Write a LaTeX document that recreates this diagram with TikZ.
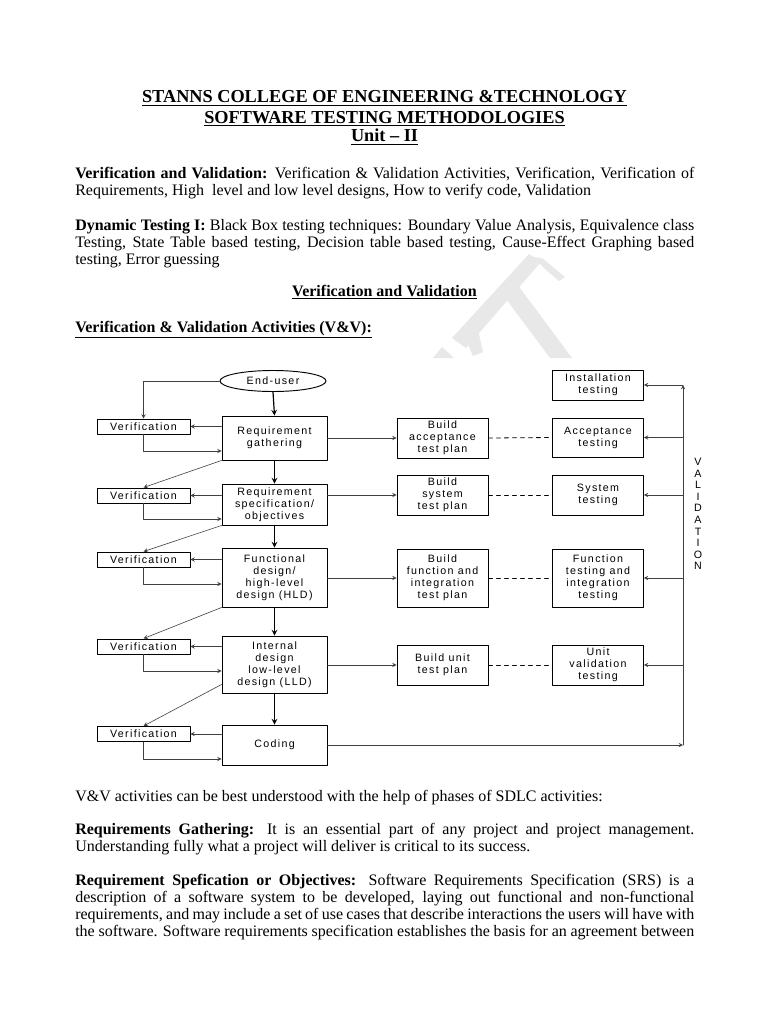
\documentclass[tikz,border=0pt]{standalone}
\usepackage{fontspec}
\setmainfont{Liberation Serif}
\newfontfamily\dfont[LetterSpace=12.5]{Liberation Sans}
\usetikzlibrary{shapes.geometric}
\newcommand{\jline}[1]{\hbox to 464.25pt{#1}}

\begin{document}
\begin{tikzpicture}[x=0.75pt, y=-0.75pt, >=stealth, line join=round, line cap=round,
	txt/.style={anchor=base west, inner sep=0pt, font=\fontsize{12}{12.75}\selectfont},
	ctxt/.style={anchor=base, inner sep=0pt, font=\fontsize{12}{12.75}\selectfont\bfseries},
	ttl/.style={anchor=base, inner sep=0pt, font=\fontsize{13.7}{14.5}\selectfont\bfseries},
	box/.style={draw, line width=0.7pt, align=center, inner sep=1pt, font=\dfont\fontsize{8}{9}\selectfont},
	mainbox/.style={box, minimum width=78.75pt},
	verif/.style={box, minimum width=69.75pt, minimum height=11.25pt},
	plan/.style={box, minimum width=68.25pt},
	link/.style={->, line width=0.45pt, black!75},
	flow/.style={->, line width=0.9pt}]
	\useasboundingbox (0,0) rectangle (768,1024);
	\fill[white] (0,0) rectangle (768,1024);

	% Watermark
	\fill[gray!18] (452,338) -- (529,254) -- (541,262) -- (466,348) -- cycle;
	\fill[gray!18] (466,340) -- (478,330) -- (483,352) -- (473,356) -- cycle;
	\fill[gray!18] (533,257) -- (542,258) -- (565,277) -- (559,281) -- (546,270) -- cycle;
	\fill[gray!18] (503,295) -- (517,284) -- (572,358) -- (550,358) -- cycle;
	\fill[gray!18] (433,358) -- (442,347) -- (454,358) -- cycle;

	% Heading
	\node[ttl] (t1) at (384.5,103) {\underline{STANNS COLLEGE OF ENGINEERING \&TECHNOLOGY}};
	\node[ttl] (t2) at (384.5,123) {\underline{SOFTWARE TESTING METHODOLOGIES}};
	\node[ttl] (t3) at (384.5,142) {\underline{Unit – II}};

	% Syllabus
	\node[txt] (p1a) at (75,178) {\jline{\textbf{Verification and Validation:} Verification \& Validation Activities, Verification, Verification of}};
	\node[txt] (p1b) at (75,195) {Requirements, High\ \ level and low level designs, How to verify code, Validation};
	\node[txt] (p2a) at (75,230) {\jline{\textbf{Dynamic Testing I:} Black Box testing techniques: Boundary Value Analysis, Equivalence class}};
	\node[txt] (p2b) at (75,247) {\jline{Testing, State Table based testing, Decision table based testing, Cause-Effect Graphing based}};
	\node[txt] (p2c) at (75,264) {testing, Error guessing};
	\node[ctxt] (h1) at (384.5,296) {\underline{Verification and Validation}};
	\node[txt, font=\fontsize{12}{12.75}\selectfont\bfseries] (h2) at (75,332) {\underline{Verification \& Validation Activities (V\&V):}};

	% Life cycle phases
	\node[ellipse, draw, line width=0.7pt, minimum width=79.5pt, minimum height=15.75pt, inner sep=0pt, font=\dfont\fontsize{8}{9}\selectfont] (endu) at (273,381) {End-user};
	\node[mainbox, minimum height=33pt] (rg) at (274.5,438) {Requirement\\gathering};
	\node[mainbox, minimum height=30.75pt] (rs) at (274.5,504.5) {Requirement\\specification/\\objectives};
	\node[mainbox, minimum height=44.25pt] (fd) at (274.5,577.5) {Functional\\design/\\high-level\\design (HLD)};
	\node[mainbox, minimum height=42.75pt] (lld) at (274.5,664.5) {Internal\\design\\low-level\\design (LLD)};
	\node[mainbox, minimum height=30pt] (cod) at (274.5,745) {Coding};

	% Verification boxes
	\foreach \n/\y in {1/426.5, 2/495.5, 3/559.5, 4/646.5, 5/734}
		\node[verif] (v\n) at (143.5,\y) {Verification};

	% Test plans
	\node[plan, minimum height=30pt] (ba) at (442.5,438) {Build\\acceptance\\test plan};
	\node[plan, minimum height=30pt] (bs) at (442.5,495) {Build\\system\\test plan};
	\node[plan, minimum height=43.5pt] (bf) at (442.5,578) {Build\\function and\\integration\\test plan};
	\node[plan, minimum height=30pt] (bu) at (442.5,665) {Build unit\\test plan};

	% Testing
	\node[plan, minimum height=22.5pt] (inst) at (598,385) {Installation\\testing};
	\node[plan, minimum height=29.25pt] (acc) at (598,437.5) {Acceptance\\testing};
	\node[plan, minimum height=30pt] (sys) at (598,495) {System\\testing};
	\node[plan, minimum height=43.5pt] (fun) at (598,578) {Function\\testing and\\integration\\testing};
	\node[plan, minimum height=30pt] (unit) at (598,665) {Unit\\validation\\testing};

	\node[font=\dfont\fontsize{8}{8.7}\selectfont, align=center, inner sep=0pt] (valid) at (698,514) {V\\A\\L\\I\\D\\A\\T\\I\\O\\N};

	% Downward flow
	\foreach \a/\b in {endu/rg, rg/rs, rs/fd, fd/lld, lld/cod}
		\draw[flow] (\a.south) -- (\b.north);

	% Verification loops
	\draw[link] (endu.west) -| (v1.north);
	\foreach \b/\n/\ry in {rg/1/451, rs/2/519, fd/3/584, lld/4/671, cod/5/759} {
		\draw[link] (\b.west |- v\n) -- (v\n.east);
		\draw[link] (v\n.south) |- (\b.west |- 0,\ry);
	}
	\foreach \a/\n in {rg/2, rs/3, fd/4}
		\draw[link] (\a.south west) -- (v\n.north);
	\draw[link] ([yshift=6.75pt]lld.south west) -- (v5.north);

	% Plans and tests
	\foreach \a/\b in {rg/ba, rs/bs, fd/bf, lld/bu}
		\draw[link] (\a.east |- \b.west) -- (\b.west);
	\foreach \a/\b in {ba/acc, bs/sys, bf/fun, bu/unit}
		\draw[line width=0.6pt, dashed] (\a.east) -- (\b.west);

	% Validation
	\coordinate (vbot) at (683,745);
	\coordinate (vtop) at (683,385);
	\draw[link] (cod.east) -- (vbot);
	\draw[link] (vbot) -- (vtop);
	\draw[link] (vtop) -- (inst.east);
	\foreach \t in {acc, sys, fun, unit}
		\draw[link] (vtop |- \t.east) -- (\t.east);

	% Text below
	\node[txt] (q1) at (75,801) {V\&V activities can be best understood with the help of phases of SDLC activities:};
	\node[txt] (q2a) at (75,834) {\jline{\textbf{Requirements Gathering:} It is an essential part of any project and project management.}};
	\node[txt] (q2b) at (75,851) {Understanding fully what a project will deliver is critical to its success.};
	\node[txt] (q3a) at (75,885) {\jline{\textbf{Requirement Spefication or Objectives:} Software Requirements Specification (SRS) is a}};
	\node[txt] (q3b) at (75,902) {\jline{description of a software system to be developed, laying out functional and non-functional}};
	\node[txt] (q3c) at (75,919) {\jline{requirements, and may include a set of use cases that describe interactions the users will have with}};
	\node[txt] (q3d) at (75,936) {\jline{the software. Software requirements specification establishes the basis for an agreement between}};
\end{tikzpicture}
\end{document}
